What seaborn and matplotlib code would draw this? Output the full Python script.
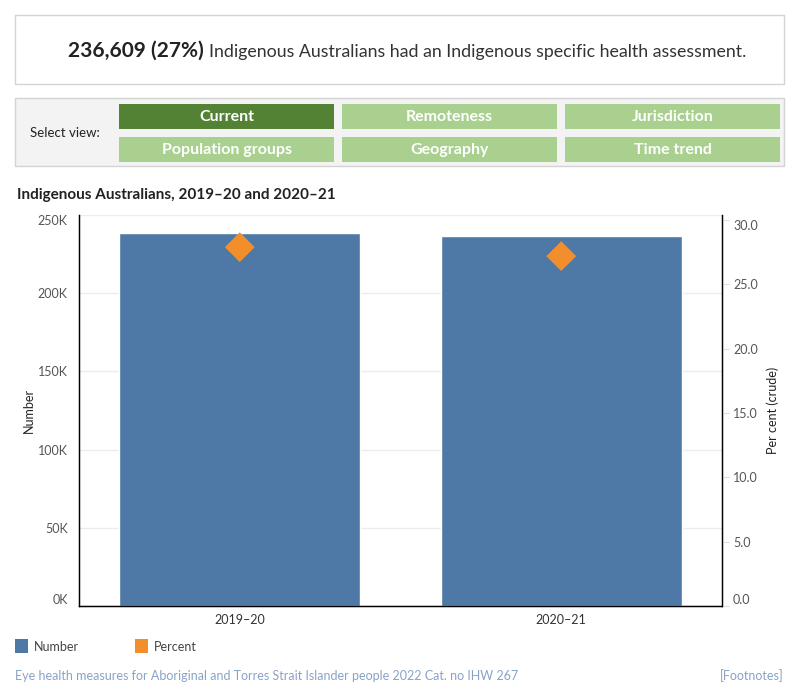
import matplotlib
matplotlib.use("Agg")
import matplotlib.pyplot as plt
from matplotlib.patches import Rectangle
import seaborn as sns
import pandas as pd

# data
years = ["2019–20", "2020–21"]
number = [238500, 236609]
percent = [27.9, 27.2]
left_ticks = [0, 50000, 100000, 150000, 200000, 250000]
left_labels = ["0K", "50K", "100K", "150K", "200K", "250K"]
right_ticks = [0, 5, 10, 15, 20, 25, 30]
views = [["Current", "Remoteness", "Jurisdiction"],
         ["Population groups", "Geography", "Time trend"]]

BLUE = "#4e79a7"
ORANGE = "#f28e2b"

sns.set_style("white")
plt.rcParams["font.family"] = ["Lato", "DejaVu Sans"]

df = pd.DataFrame({"year": years, "number": number, "percent": percent})

W, H = 800, 700
fig = plt.figure(figsize=(8, 7), dpi=100)


def px(x, y, w, h):
    # pixel box (top-left origin) -> figure fraction
    return [x / W, 1 - (y + h) / H, w / W, h / H]


# header box
bg = fig.add_axes([0, 0, 1, 1], zorder=-5)
bg.set_xlim(0, W)
bg.set_ylim(H, 0)
bg.axis("off")
bg.add_patch(Rectangle((15, 15), 769, 69, facecolor="white", edgecolor="#d4d4d4", lw=1))
bg.text(204, 51, "236,609 (27%)", fontsize=15, fontweight="bold", ha="right", va="center", color="#222222")
bg.text(209, 52, "Indigenous Australians had an Indigenous specific health assessment.",
        fontsize=12.8, ha="left", va="center", color="#333333")

# view selector
bg.add_patch(Rectangle((15, 98), 769, 68, facecolor="#f3f3f3", edgecolor="#d4d4d4", lw=1))
bg.text(65, 133, "Select view:", fontsize=9.5, ha="center", va="center", color="#222222")
col_x = [119, 342, 565]
row_y = [104, 137]
for r, row in enumerate(views):
    for c, name in enumerate(row):
        fc = "#548235" if (r == 0 and c == 0) else "#a9d08e"
        bg.add_patch(Rectangle((col_x[c], row_y[r]), 215, 25, facecolor=fc, edgecolor="none"))
        bg.text(col_x[c] + 107.5, row_y[r] + 13, name, fontsize=11.5, fontweight="bold",
                ha="center", va="center", color="white")

bg.text(17, 195, "Indigenous Australians, 2019–20 and 2020–21", fontsize=11, fontweight="bold",
        ha="left", va="center", color="#222222")

# legend
bg.add_patch(Rectangle((15, 639), 13, 14, facecolor=BLUE, edgecolor="none"))
bg.text(34, 647, "Number", fontsize=9, ha="left", va="center", color="#444444")
bg.add_patch(Rectangle((135, 639), 13, 14, facecolor=ORANGE, edgecolor="none"))
bg.text(154, 647, "Percent", fontsize=9, ha="left", va="center", color="#444444")

# footer
bg.text(15, 676, "Eye health measures for Aboriginal and Torres Strait Islander people 2022 Cat. no IHW 267",
        fontsize=9, ha="left", va="center", color="#8aa2c8")
bg.text(784, 676, "[Footnotes]", fontsize=9, ha="right", va="center", color="#8aa2c8")

# main chart
ax = fig.add_axes(px(79, 215, 643, 391))
sns.barplot(data=df, x="year", y="number", color=BLUE, width=0.75, saturation=1, ax=ax)
ax.set_xlim(-0.5, 1.5)
ax.set_ylim(0, 250000)
ax.set_yticks(left_ticks)
ax.set_yticklabels(left_labels)
ax.grid(axis="y", color="#ececec", lw=1)
ax.set_axisbelow(True)
ax.set_xlabel("")
ax.set_ylabel("Number", fontsize=9, color="#222222", labelpad=2)
ax.tick_params(axis="y", length=0, labelsize=9, labelcolor="#555555", pad=8)
ax.tick_params(axis="x", length=0, labelsize=9, labelcolor="#333333", pad=6)
ax.set_xticks([0.5], minor=True)
ax.tick_params(axis="x", which="minor", length=6, color="#dddddd")
ax.spines["top"].set_visible(False)
for s in ["left", "bottom", "right"]:
    ax.spines[s].set_color("black")
    ax.spines[s].set_linewidth(1)
lbls = ax.get_yticklabels()
lbls[0].set_va("bottom")
lbls[-1].set_va("top")

ax2 = ax.twinx()
sns.scatterplot(data=df, x="year", y="percent", marker="D", s=230, color=ORANGE,
                edgecolor="none", ax=ax2, zorder=5)
ax2.set_xlim(-0.5, 1.5)
ax2.set_ylim(0, 30.4)
ax2.set_yticks(right_ticks)
ax2.set_yticklabels([f"{t:.1f}" for t in right_ticks])
ax2.set_ylabel("Per cent (crude)", fontsize=9, color="#222222", labelpad=6)
ax2.tick_params(axis="y", length=5, color="#dddddd", labelsize=9, labelcolor="#555555", pad=3)
ax2.spines["top"].set_visible(False)
for s in ["left", "bottom", "right"]:
    ax2.spines[s].set_color("black")
rl = ax2.get_yticklabels()
rl[0].set_va("bottom")
rl[-1].set_va("top")

fig.savefig("out.png", dpi=100)
